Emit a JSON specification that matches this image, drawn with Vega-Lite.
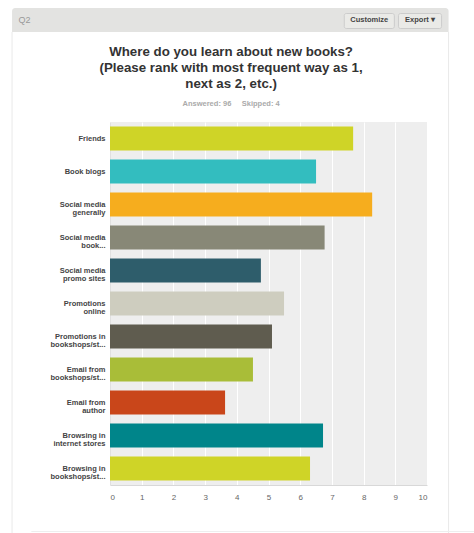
{
  "$schema": "https://vega.github.io/schema/vega-lite/v6.json",
  "autosize": {"type": "none"},
  "padding": {"left": 110, "top": 122, "right": 47, "bottom": 48},
  "width": 317,
  "height": 363,
  "background": "white",
  "config": {
    "font": "Liberation Sans",
    "view": {"fill": "#eeeeee", "stroke": null},
    "axisX": {"tickCount": 11}
  },
  "resolve": {"scale": {"y": "independent"}},
  "layer": [
    {
      "data": {
        "values": [
          {"source": "Friends", "rank": 7.67},
          {"source": "Book blogs", "rank": 6.5},
          {"source": "Social media\ngenerally", "rank": 8.27},
          {"source": "Social media\nbook...", "rank": 6.77},
          {"source": "Social media\npromo sites", "rank": 4.76},
          {"source": "Promotions\nonline", "rank": 5.49},
          {"source": "Promotions in\nbookshops/st...", "rank": 5.11},
          {"source": "Email from\nbookshops/st...", "rank": 4.51},
          {"source": "Email from\nauthor", "rank": 3.63},
          {"source": "Browsing in\ninternet stores", "rank": 6.72},
          {"source": "Browsing in\nbookshops/st...", "rank": 6.31}
        ]
      },
      "mark": {"type": "bar"},
      "encoding": {
        "x": {
          "field": "rank",
          "type": "quantitative",
          "scale": {"domain": [0, 10], "nice": false},
          "axis": {
            "title": null,
            "tickCount": 11,
            "grid": true,
            "gridColor": "white",
            "ticks": false,
            "domainColor": "#d8d8d8",
            "labelColor": "#666666",
            "labelFontSize": 8,
            "labelPadding": 8,
            "labelFlush": true
          }
        },
        "y": {
          "field": "source",
          "type": "nominal",
          "sort": null,
          "scale": {"paddingInner": 0.27, "paddingOuter": 0.135},
          "axis": {
            "title": null,
            "ticks": false,
            "domainColor": "#e0e0e0",
            "labelColor": "#444444",
            "labelFontSize": 7.5,
            "labelFontWeight": "bold",
            "labelLineHeight": 8,
            "labelPadding": 5,
            "labelExpr": "split(datum.value, '\\n')"
          }
        },
        "color": {
          "field": "source",
          "type": "nominal",
          "sort": null,
          "legend": null,
          "scale": {
            "range": ["#cfd427", "#33bdbf", "#f6ad1e", "#888877", "#2e5d6b", "#cecdbf", "#5f5c4f", "#a9bd38", "#c9461a", "#00858a", "#cfd427"]
          }
        }
      }
    },
    {
      "data": {"values": [{"part": "card"}]},
      "layer": [
        {
          "mark": {"type": "rect", "color": "#e3e3e1", "cornerRadiusTopLeft": 3, "cornerRadiusTopRight": 3},
          "encoding": {
            "x": {"datum": -3.09, "type": "quantitative"},
            "x2": {"datum": 10.68},
            "y": {"datum": -114, "type": "quantitative", "axis": null, "scale": {"domain": [0, 363], "reverse": true, "nice": false, "zero": false}},
            "y2": {"datum": -90}
          }
        },
        {
          "mark": {"type": "rule", "color": "#e9e9e9"},
          "encoding": {
            "x": {"datum": -3.09, "type": "quantitative"},
            "y": {"datum": -90, "type": "quantitative", "axis": null},
            "y2": {"datum": 411}
          }
        },
        {
          "mark": {"type": "rule", "color": "#e9e9e9"},
          "encoding": {
            "x": {"datum": 10.68, "type": "quantitative"},
            "y": {"datum": -90, "type": "quantitative", "axis": null},
            "y2": {"datum": 411}
          }
        },
        {
          "mark": {"type": "rule", "color": "#eeeeee"},
          "encoding": {
            "x": {"datum": -2.48, "type": "quantitative"},
            "x2": {"datum": 11.5},
            "y": {"datum": 409.5, "type": "quantitative", "axis": null}
          }
        },
        {
          "mark": {"type": "rect", "color": "#eaeae7", "stroke": "#cccccc", "cornerRadius": 2},
          "encoding": {
            "x": {"datum": 7.39, "type": "quantitative"},
            "x2": {"datum": 8.97},
            "y": {"datum": -108.5, "type": "quantitative", "axis": null},
            "y2": {"datum": -93.5}
          }
        },
        {
          "mark": {"type": "rect", "color": "#eaeae7", "stroke": "#cccccc", "cornerRadius": 2},
          "encoding": {
            "x": {"datum": 9.1, "type": "quantitative"},
            "x2": {"datum": 10.46},
            "y": {"datum": -108.5, "type": "quantitative", "axis": null},
            "y2": {"datum": -93.5}
          }
        },
        {
          "mark": {"type": "text", "text": "Q2", "align": "left", "baseline": "middle", "fontSize": 9, "color": "#999999"},
          "encoding": {
            "x": {"datum": -2.89, "type": "quantitative"},
            "y": {"datum": -102, "type": "quantitative", "axis": null}
          }
        },
        {
          "mark": {"type": "text", "text": "Customize", "baseline": "middle", "fontSize": 7.5, "fontWeight": "bold", "color": "#444444"},
          "encoding": {
            "x": {"datum": 8.18, "type": "quantitative"},
            "y": {"datum": -102, "type": "quantitative", "axis": null}
          }
        },
        {
          "mark": {"type": "text", "text": "Export ▾", "baseline": "middle", "fontSize": 7.5, "fontWeight": "bold", "color": "#444444"},
          "encoding": {
            "x": {"datum": 9.78, "type": "quantitative"},
            "y": {"datum": -102, "type": "quantitative", "axis": null}
          }
        },
        {
          "mark": {
            "type": "text",
            "text": ["Where do you learn about new books?", "(Please rank with most frequent way as 1,", "next as 2, etc.)"],
            "baseline": "middle",
            "fontSize": 13.3,
            "lineHeight": 16,
            "fontWeight": "bold",
            "color": "#333333"
          },
          "encoding": {
            "x": {"datum": 3.82, "type": "quantitative"},
            "y": {"datum": -70, "type": "quantitative", "axis": null}
          }
        },
        {
          "mark": {"type": "text", "text": "Answered: 96\u00a0\u00a0\u00a0\u00a0\u00a0Skipped: 4", "baseline": "middle", "fontSize": 7.5, "fontWeight": "bold", "color": "#aaaaaa"},
          "encoding": {
            "x": {"datum": 3.82, "type": "quantitative"},
            "y": {"datum": -18, "type": "quantitative", "axis": null}
          }
        }
      ]
    }
  ]
}
